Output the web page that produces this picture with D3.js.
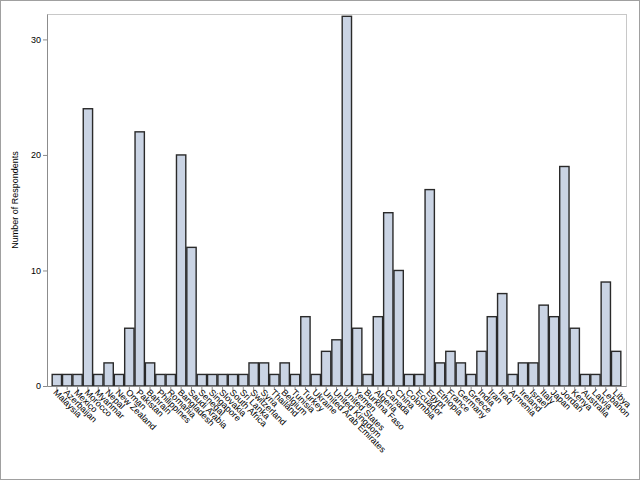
<!DOCTYPE html>
<html>
<head>
<meta charset="utf-8">
<script src="https://cdn.jsdelivr.net/npm/d3@7"></script>
<style>
  html, body { margin: 0; padding: 0; background: #fff; }
  svg { display: block; font-family: "Liberation Sans", Arial, sans-serif; }
</style>
</head>
<body>
<svg id="chart" width="640" height="480"></svg>
<script>
const countries = ["Malaysia","Azerbaijan","Mexico","Morocco","Myanmar","Nepal","New Zealand","Oman","Pakistan","Bahrain","Philippines","Romania","Bangladesh","Saudi Arabia","Senegal","Singapore","Slovakia","South Africa","Sri Lanka","Switzerland","Syria","Thailand","Belgium","Tunisia","Turkey","Ukraine","United Arab Emirates","United Kingdom","United States","Yemen","Burkina Faso","Algeria","Canada","China","Colombia","Ecuador","Egypt","Ethiopia","France","Germany","Greece","India","Iran","Iraq","Armenia","Ireland","Israel","Italy","Japan","Jordan","Kenya","Australia","Latvia","Lebanon","Libya"];
const respondents = [1,1,1,24,1,2,1,5,22,2,1,1,20,12,1,1,1,1,1,2,2,1,2,1,6,1,3,4,32,5,1,6,15,10,1,1,17,2,3,2,1,3,6,8,1,2,2,7,6,19,5,1,1,9,3];
const yTicks = [0,10,20,30];
const yTitle = "Number of Respondents";

const svg = d3.select("#chart");
const W = 640, H = 480;
const m = {left: 47, right: 14, top: 14, bottom: 94};

svg.append("rect").attr("x",0.5).attr("y",0.5).attr("width",W-1).attr("height",H-1)
  .attr("fill","#fff").attr("stroke","#a0a0a0");

const x = d3.scaleBand().domain(countries).range([m.left, W - m.right]).paddingInner(0.1).paddingOuter(0.5);
const y = d3.scaleLinear().domain([0, 32.2]).range([H - m.bottom, m.top]);

// plot frame
svg.append("rect").attr("x", m.left + 0.5).attr("y", m.top + 0.5)
  .attr("width", W - m.right - m.left).attr("height", H - m.bottom - m.top)
  .attr("fill","none").attr("stroke","#c8c8c8");

// bars
svg.append("g").selectAll("rect").data(respondents).join("rect")
  .attr("x", (d,i) => x(countries[i]))
  .attr("y", d => y(d))
  .attr("width", x.bandwidth())
  .attr("height", d => y(0) - y(d))
  .attr("fill", "#cad4e4")
  .attr("stroke", "#2a2a2a")
  .attr("stroke-width", 1.4);

// y axis
const ya = svg.append("g").attr("transform", `translate(${m.left},0)`)
  .call(d3.axisLeft(y).tickValues(yTicks).tickSize(4).tickSizeOuter(0).tickFormat(d3.format("d")));
ya.select(".domain").attr("stroke","#8c8c8c");
ya.selectAll(".tick line").attr("stroke","#8c8c8c");
ya.selectAll(".tick text").attr("font-size", 9).attr("fill","#000").attr("x", -6)
  .attr("font-family", "Liberation Sans, Arial, sans-serif");

// x axis
const xa = svg.append("g").attr("transform", `translate(0,${H - m.bottom})`)
  .call(d3.axisBottom(x).tickSize(4).tickSizeOuter(0));
xa.select(".domain").attr("stroke","#8c8c8c");
xa.selectAll(".tick line").attr("stroke","#8c8c8c");
xa.selectAll(".tick text")
  .attr("font-size", 9).attr("fill","#000")
  .attr("font-family", "Liberation Sans, Arial, sans-serif")
  .attr("text-anchor","start")
  .attr("dy", null)
  .attr("y", 0)
  .attr("transform", "translate(-4,7) rotate(45)");

// y title
svg.append("text")
  .attr("transform", `translate(18,${(m.top + H - m.bottom)/2}) rotate(-90)`)
  .attr("text-anchor","middle")
  .attr("font-size", 9)
  .attr("fill","#000")
  .text(yTitle);
</script>
</body>
</html>
